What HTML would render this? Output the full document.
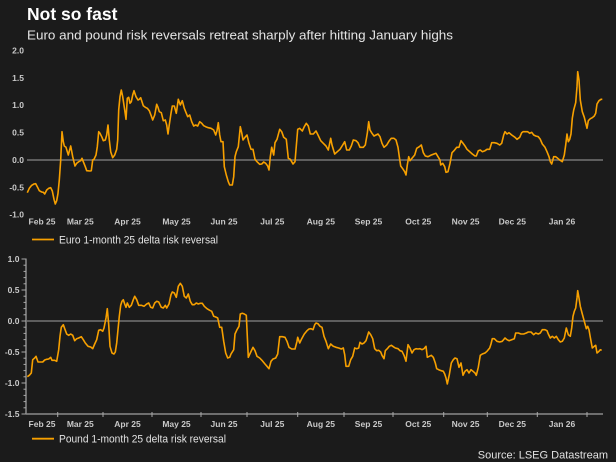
<!DOCTYPE html>
<html><head><meta charset="utf-8"><style>
html,body{margin:0;padding:0;background:#1b1b1b;}
svg{display:block;}
text{font-family:"Liberation Sans",Arial,sans-serif;}
.yl{font-size:8.5px;font-weight:bold;fill:#c9c9c9;text-anchor:end;}
.xl{font-size:8.5px;font-weight:bold;fill:#c9c9c9;text-anchor:middle;}
</style></head><body>
<svg width="616" height="462" viewBox="0 0 616 462" xmlns="http://www.w3.org/2000/svg">
<rect x="0" y="0" width="616" height="462" fill="#1b1b1b"/>
<text x="27" y="20" font-size="17.5" font-weight="bold" fill="#ffffff">Not so fast</text>
<text x="27" y="39.3" font-size="12.5" fill="#e4e4e4" textLength="426" lengthAdjust="spacingAndGlyphs">Euro and pound risk reversals retreat sharply after hitting January highs</text>

<!-- top chart -->
<g>
<text class="yl" x="24" y="53.5">2.0</text>
<text class="yl" x="24" y="80.8">1.5</text>
<text class="yl" x="24" y="108.1">1.0</text>
<text class="yl" x="24" y="135.4">0.5</text>
<text class="yl" x="24" y="163">0.0</text>
<text class="yl" x="24" y="190.3">-0.5</text>
<text class="yl" x="24" y="217.5">-1.0</text>
<line x1="27" y1="160" x2="603" y2="160" stroke="#747474" stroke-width="1.6"/>
<g class="xl">
<text class="xl" x="42" y="224.5">Feb 25</text>
<text class="xl" x="80.3" y="224.5">Mar 25</text>
<text class="xl" x="127.5" y="224.5">Apr 25</text>
<text class="xl" x="176.5" y="224.5">May 25</text>
<text class="xl" x="224" y="224.5">Jun 25</text>
<text class="xl" x="272.3" y="224.5">Jul 25</text>
<text class="xl" x="320.8" y="224.5">Aug 25</text>
<text class="xl" x="368.5" y="224.5">Sep 25</text>
<text class="xl" x="418.3" y="224.5">Oct 25</text>
<text class="xl" x="465.5" y="224.5">Nov 25</text>
<text class="xl" x="512.3" y="224.5">Dec 25</text>
<text class="xl" x="562" y="224.5">Jan 26</text>
</g>
<polyline fill="none" stroke="#f7a000" stroke-width="1.6" stroke-linejoin="round" points="27.3,192.7 29.3,188.3 31.7,185.3 34,184 35.7,183.7 37.3,186.7 39.3,190.7 41.7,192 43.3,192.3 44.7,194 46.7,190 48.7,188.3 50.7,187.7 52.3,191 54,199.3 55.3,204 56.7,200.7 58,193.3 59.3,180 60.7,160 62,131.7 63.3,141.7 64.3,146 66,147.3 68.3,155 70.7,146 72.7,156.7 75,166 76.7,163.3 78.7,161.7 80.7,160.7 82,158.3 83.3,161.7 85.3,166.7 86.7,170.7 90,171 91.3,170.7 92.7,160 94,159.3 96,155 97.3,146.7 98.7,131.7 100,133.3 102,137.3 103.3,140.7 105.3,140 106.7,135 108,125 109.3,140 110.7,151.7 112.7,157.7 114.7,155 116.7,149.3 117.7,140 118.7,110 120,96.7 121.3,90 122.7,96.7 124.7,110 126,119.3 127.3,98.3 128.7,97.3 130,103.3 131.3,101.7 132.7,95 134,90.7 136,96.7 138,100 139.3,99.3 140.7,97.7 142,101.7 143.3,105.7 145.3,107.3 147.3,108.3 149.3,110.7 151.3,116 152.7,120 154.7,115 156.7,104.3 158,107.3 159.3,111.7 161.3,112.7 163.3,120.7 165.3,120 166.7,125 168,134 169,126.7 171,113.3 172.3,106 174.3,106 176.3,113.3 178.3,99.3 180.3,105 182.3,100.7 184.3,108.3 186.3,113.3 187.7,116.7 189.7,115 191.7,121.7 193.7,126 195.7,125 197.7,126 199.7,121.7 201.7,123.3 203.7,125.7 205.7,126.7 208.3,127.7 211,128.3 213.7,130 215.7,135 217,130.7 218.3,122.7 219.7,135 221,141.7 223,141.7 224.3,166.7 226.3,175 228.3,181.7 229.7,185 232.3,185 233.7,176.7 235,156.7 236.3,151.7 238.3,146.7 240.3,126.7 241.7,132.7 243,140 245,137.3 247,135 249,143.3 251,149.3 253,149.3 255,159.3 257,161.7 259.7,164.3 261.7,164 263.7,162 265.7,163.3 267.7,166 269,170 270.3,156.7 271.7,147.3 273.7,155 275,142.7 277,139.3 279.7,129.3 281.7,131.7 283.7,137.3 286.3,139.3 288.3,158.3 290.3,159.3 291.7,161.7 293,164 295,161.7 297.7,129.3 299.7,128.3 302.3,131 304.3,126.7 306.3,123.3 308.3,126 310.3,134 313.3,134 316,131 318,135 320.7,140.7 323.3,143.3 326,146 328.3,150 330.7,138.3 332,145 334.7,154 337.3,151.7 340,149.3 342.7,145 344.7,141.7 346.7,150 349.3,150 351.3,146 353.3,140 356,140.7 358,142.7 360,147.3 363.3,147.3 365.3,145 367.3,133.3 368.7,121.7 370,130 372,133.3 374,136 376,135 378,134 380,136.7 382,143.3 384,147.3 386.7,145 389.3,140.7 391.3,138.3 394,138.3 396,140 398,147.3 399.3,156.7 400.7,166 402.7,168.7 404.7,171.7 406,175 407.3,165 408.7,156.7 410,160.7 412,158.3 414.7,155 416.7,148.3 419.3,146.7 421.3,145 423.3,152.7 425.3,156 428,156.7 430.7,155.3 433.3,154.3 436,153.3 438,156.7 440,160 440.7,165 442.7,163.3 444.7,166.7 446,172.3 448,171.7 450,163.3 452,152.7 454,150.7 456.7,147.3 459,147.3 461,140.7 463,143.3 465,146 467,149.3 469.7,151.7 472.3,154 475,156 476.3,156 478.3,150.7 480.3,150 482.3,151.7 485,150.7 487,149.3 489.7,149.3 491.7,142.7 494.3,142.7 497,143.3 499.7,145 501.7,143.3 503.7,135 505,131.7 507,134 509,132.7 511.7,135 515,137.3 517,139.3 519.7,137.3 521.7,132.7 523,131.7 525.7,131.7 527.7,131.7 529.7,133.3 531.7,132.3 533.7,135 535.7,136 538.3,136.7 540.3,139.3 542.3,144 545,147.3 547,151.7 549,156.7 550.3,161.7 551.7,164 553.7,156.7 555.7,156.7 557.7,158.3 559.7,160 562.3,161.7 564.3,155 565.7,145 567,134 568.3,141.7 569.7,139.3 571,134 572.3,118.3 573.7,110 575.7,102.7 577,86.7 577.7,71.7 579,80 580.3,100 582.3,111.7 584.3,117.3 587,128.3 588.3,120.7 590.3,118.7 592.3,117.7 594.3,116 595.7,113.3 597,104 599,100.7 601,99.3 602.3,99.3"/>
<line x1="32" y1="239.5" x2="54" y2="239.5" stroke="#f7a000" stroke-width="1.8"/>
<text x="59" y="243.3" font-size="11" fill="#e2e2e2" textLength="159" lengthAdjust="spacingAndGlyphs">Euro 1-month 25 delta risk reversal</text>
</g>

<!-- bottom chart -->
<g>
<text class="yl" x="19.5" y="262">1.0</text>
<text class="yl" x="19.5" y="293">0.5</text>
<text class="yl" x="19.5" y="324">0.0</text>
<text class="yl" x="19.5" y="355">-0.5</text>
<text class="yl" x="19.5" y="386">-1.0</text>
<text class="yl" x="19.5" y="417">-1.5</text>
<line x1="26" y1="258.5" x2="26" y2="414.5" stroke="#a8a8a8" stroke-width="1.2"/>
<g stroke="#a8a8a8" stroke-width="1">
<line x1="21.5" y1="259" x2="26" y2="259"/><line x1="21.5" y1="290" x2="26" y2="290"/><line x1="21.5" y1="321" x2="26" y2="321"/><line x1="21.5" y1="352" x2="26" y2="352"/><line x1="21.5" y1="383" x2="26" y2="383"/><line x1="21.5" y1="414" x2="26" y2="414"/>
<line x1="23.5" y1="265.2" x2="26" y2="265.2"/><line x1="23.5" y1="271.4" x2="26" y2="271.4"/><line x1="23.5" y1="277.6" x2="26" y2="277.6"/><line x1="23.5" y1="283.8" x2="26" y2="283.8"/>
<line x1="23.5" y1="296.2" x2="26" y2="296.2"/><line x1="23.5" y1="302.4" x2="26" y2="302.4"/><line x1="23.5" y1="308.6" x2="26" y2="308.6"/><line x1="23.5" y1="314.8" x2="26" y2="314.8"/>
<line x1="23.5" y1="327.2" x2="26" y2="327.2"/><line x1="23.5" y1="333.4" x2="26" y2="333.4"/><line x1="23.5" y1="339.6" x2="26" y2="339.6"/><line x1="23.5" y1="345.8" x2="26" y2="345.8"/>
<line x1="23.5" y1="358.2" x2="26" y2="358.2"/><line x1="23.5" y1="364.4" x2="26" y2="364.4"/><line x1="23.5" y1="370.6" x2="26" y2="370.6"/><line x1="23.5" y1="376.8" x2="26" y2="376.8"/>
<line x1="23.5" y1="389.2" x2="26" y2="389.2"/><line x1="23.5" y1="395.4" x2="26" y2="395.4"/><line x1="23.5" y1="401.6" x2="26" y2="401.6"/><line x1="23.5" y1="407.8" x2="26" y2="407.8"/>
</g>
<line x1="26" y1="414" x2="603" y2="414" stroke="#8a8a8a" stroke-width="1.4"/>
<g stroke="#a8a8a8" stroke-width="1">
<line x1="57.7" y1="412" x2="57.7" y2="417"/><line x1="103" y1="412" x2="103" y2="417"/><line x1="152" y1="412" x2="152" y2="417"/><line x1="201" y1="412" x2="201" y2="417"/><line x1="247" y1="412" x2="247" y2="417"/><line x1="297.7" y1="412" x2="297.7" y2="417"/><line x1="344" y1="412" x2="344" y2="417"/><line x1="393" y1="412" x2="393" y2="417"/><line x1="443.7" y1="412" x2="443.7" y2="417"/><line x1="487.3" y1="412" x2="487.3" y2="417"/><line x1="537.3" y1="412" x2="537.3" y2="417"/><line x1="587" y1="412" x2="587" y2="417"/>
</g>
<line x1="26" y1="321" x2="603" y2="321" stroke="#747474" stroke-width="1.6"/>
<text class="xl" x="42" y="427">Feb 25</text>
<text class="xl" x="80.3" y="427">Mar 25</text>
<text class="xl" x="127.5" y="427">Apr 25</text>
<text class="xl" x="176.5" y="427">May 25</text>
<text class="xl" x="224" y="427">Jun 25</text>
<text class="xl" x="272.3" y="427">Jul 25</text>
<text class="xl" x="320.8" y="427">Aug 25</text>
<text class="xl" x="368.5" y="427">Sep 25</text>
<text class="xl" x="418.3" y="427">Oct 25</text>
<text class="xl" x="465.5" y="427">Nov 25</text>
<text class="xl" x="512.3" y="427">Dec 25</text>
<text class="xl" x="562" y="427">Jan 26</text>
<polyline fill="none" stroke="#f7a000" stroke-width="1.6" stroke-linejoin="round" points="27.3,376.7 29.3,375.3 31.3,373 32.7,359.7 34.7,358 36,356.3 38,362 40.7,362 42.7,362 44.7,360 46.7,359.3 48.7,359 50.7,357.3 52,360.3 54.7,360.3 56.7,361.3 58.7,349.7 60,336.3 61.3,327.3 63.3,324.7 64.7,328.7 66.7,334 68.7,335.3 70.7,334 72.7,335.3 74.7,340.7 76.7,338.7 78.7,338 81.3,336.7 83.3,339.7 85.3,343 88,346.3 90.7,347 92.7,348.7 94.7,344 96.7,339.7 98.7,330.3 100.7,329.7 102.7,331.3 104,328 106,318 107.3,308.7 108.7,324.7 110,346.3 112,353 114,354 115.3,352 116.7,343 118,329.7 119.3,316.3 120.7,305.3 122,301.3 123.3,299.7 124.7,304 126,307.3 127.3,303 129.3,307.3 131.3,305.3 133.3,299.7 134.7,296.3 136.7,299.7 138.7,305.3 141.3,305.3 144,306.3 146.7,304 148.7,303 150.7,307.3 152.7,308 154.7,303 156.7,301.3 158.7,302 161.3,307.3 163.3,308 165.3,305.3 166.7,308 169,304 171,294.7 172.3,292 174.3,293 176.3,297.3 178.3,286.3 180.3,283.3 182.3,286.3 184.3,296.3 186.3,298 188.3,294 190.3,301.3 192.3,304.7 194.3,304.7 196.3,303 198.3,304 200.3,303.3 202.3,303.3 204.3,306.3 207,308.7 209.7,310.3 211.7,311.3 213.7,316.3 215.7,317 217.7,318 219.7,327.3 221.7,327.3 223.7,341.3 225.7,353 227.7,358 229.7,357.3 231,354 233.7,349.7 235,334 237,329.7 239,326.3 240.3,314 242.3,313.3 244.3,314 246.3,315.3 248.3,357.3 250.3,353 253,347.3 255,350.7 257,356.3 259.7,358 262.3,360.7 265,364 267,366.3 269,368.7 271,361.3 273,359 275.7,358 277.7,354 279.7,336.7 282.3,336.7 285,337.3 287,341.3 289,347.3 291.7,349 295,349 297,341.3 297.7,337.3 299.7,343 301.7,338.7 304.3,334 307,330.7 309,329 311,328.7 313,329.7 314.7,324.7 316,323 318,323.7 320,326.3 322,327.3 324,336.3 326,341.3 328.3,348.7 330.7,344 333.3,346.3 336,347.3 338.7,348 341.3,349 343.3,348 344.7,354.7 346,366.3 348.7,366.3 350.7,359.7 352.7,356.3 354.7,348 356.7,348.7 358.7,348 360,342.3 362,344 364,343 366,340.7 368.7,332 370.7,334.7 372.7,338.7 374.7,348.7 376.7,350.7 378.7,350.3 380.7,352 382,355.3 384,358.7 385.3,350.7 387.3,348.7 389.3,346.3 391.3,345.3 393.3,346.7 395.3,348 398,348.7 400,350.7 402,351.3 404,355.3 406,361.3 408,344.7 410,348 412,353 414,349.7 416,348.7 418,349 420,348.7 422,349.7 424,348.7 426,346.3 427.3,357.3 429.3,356.3 431.3,355.3 433.3,357.3 435.3,363 436.7,368.7 438.7,369.7 441.3,370.7 443.3,371.3 444.7,374 446,378 447.3,384 449.3,374.7 451.3,363 453.3,359.7 455,358 457,358.7 459,367.3 461,363 463,375.3 465,371.3 467,369.7 469,373 471,369.7 473,371.3 475,373 476.3,375.3 478.3,367.3 480.3,355.3 482.3,354 485,353 487,351.3 489.7,348 491,344 492.3,338.7 494.3,338.7 497,341.3 499.7,342 502.3,341.3 505,338 507,339.7 509,340.7 511.7,339.7 514.3,338.7 515.7,333 518.3,333 521,334 523.7,334 526.3,333 528.3,332 531,332 533.7,334.7 535.7,333 538.3,334 540.3,333 542.3,329.7 545,329.7 547,330.7 548.3,334 550.3,338 552.3,336.3 554.3,338 556.3,336.3 558.3,339.7 560.3,342 562.3,341.3 564.3,338 566.3,328 568.3,334.7 570.3,336.3 571.7,328 573,316.3 574.3,311.3 575.7,308 577,298 577.7,290.7 579,298 580.3,306.3 582.3,314 584.3,321.3 586.3,328.7 587.7,326.3 589,329.7 590.3,337.3 592.3,348 594.3,346.3 595.7,345.3 597,353 599,351.3 600.3,349.7 601.7,350.3"/>
<line x1="32" y1="438.7" x2="54" y2="438.7" stroke="#f7a000" stroke-width="1.8"/>
<text x="59" y="442.5" font-size="11" fill="#e2e2e2" textLength="167" lengthAdjust="spacingAndGlyphs">Pound 1-month 25 delta risk reversal</text>
</g>
<text x="608" y="458.3" font-size="11" fill="#e2e2e2" text-anchor="end">Source: LSEG Datastream</text>
</svg>
</body></html>
